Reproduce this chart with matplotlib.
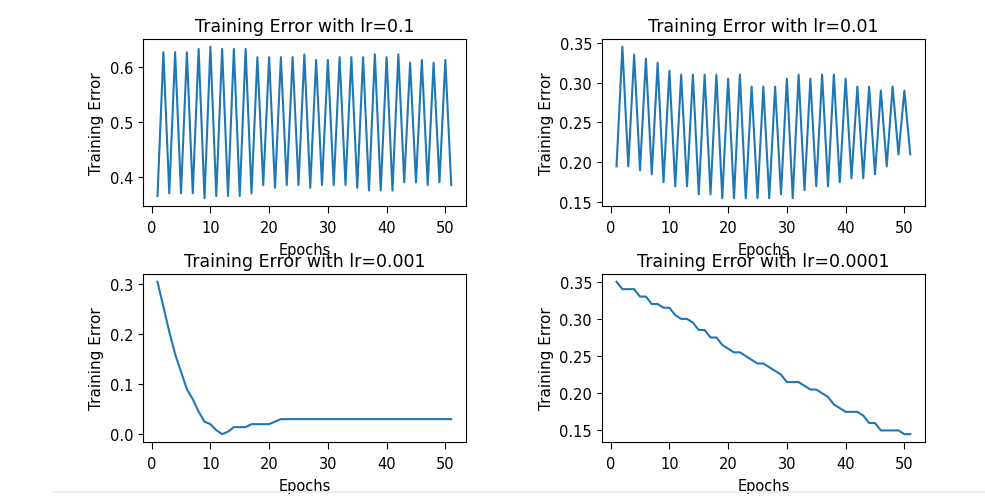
import numpy as np
import matplotlib.pyplot as plt
from matplotlib.lines import Line2D

epochs = np.arange(1, 52)

# lr=0.1: alternating low (odd epochs) / high (even epochs)
lows_01 = [0.365, 0.37, 0.37, 0.37, 0.361, 0.365, 0.365, 0.365, 0.37, 0.385,
           0.38, 0.385, 0.385, 0.38, 0.385, 0.385, 0.385, 0.38, 0.375, 0.375,
           0.375, 0.39, 0.39, 0.385, 0.39, 0.385]
highs_01 = [0.627, 0.627, 0.627, 0.633, 0.637, 0.633, 0.633, 0.633, 0.618, 0.618,
            0.618, 0.618, 0.623, 0.613, 0.613, 0.618, 0.618, 0.618, 0.623, 0.618,
            0.623, 0.608, 0.613, 0.608, 0.613]

# lr=0.01
lows_001 = [0.195, 0.195, 0.19, 0.185, 0.175, 0.17, 0.17, 0.16, 0.16, 0.155,
            0.155, 0.155, 0.155, 0.155, 0.16, 0.155, 0.165, 0.17, 0.17, 0.175,
            0.18, 0.18, 0.185, 0.195, 0.21, 0.21]
highs_001 = [0.345, 0.335, 0.33, 0.325, 0.315, 0.31, 0.31, 0.31, 0.31, 0.305,
             0.31, 0.295, 0.295, 0.295, 0.305, 0.31, 0.305, 0.31, 0.31, 0.305,
             0.295, 0.295, 0.29, 0.295, 0.29]


def zigzag(lows, highs):
    vals = []
    for i in range(len(lows)):
        vals.append(lows[i])
        if i < len(highs):
            vals.append(highs[i])
    return vals


err_01 = zigzag(lows_01, highs_01)
err_001 = zigzag(lows_001, highs_001)

err_0001 = [0.305, 0.255, 0.205, 0.16, 0.125, 0.09, 0.07, 0.045, 0.025, 0.02,
            0.008, 0.0, 0.005, 0.014, 0.014, 0.014, 0.02, 0.02, 0.02, 0.02,
            0.025] + [0.03] * 30

err_00001 = [0.35, 0.34, 0.34, 0.34, 0.33, 0.33, 0.32, 0.32, 0.315, 0.315,
             0.305, 0.30, 0.30, 0.295, 0.285, 0.285, 0.275, 0.275, 0.265, 0.26,
             0.255, 0.255, 0.25, 0.245, 0.24, 0.24, 0.235, 0.23, 0.225, 0.215,
             0.215, 0.215, 0.21, 0.205, 0.205, 0.20, 0.195, 0.185, 0.18, 0.175,
             0.175, 0.175, 0.17, 0.16, 0.16, 0.15, 0.15, 0.15, 0.15, 0.145,
             0.145]

lrs = ["0.1", "0.01", "0.001", "0.0001"]
errors = [err_01, err_001, err_0001, err_00001]

plt.rcParams["xtick.labelsize"] = 10.5
plt.rcParams["ytick.labelsize"] = 10.5
plt.rcParams["xtick.major.size"] = 5
plt.rcParams["xtick.major.pad"] = 5.5

fig = plt.figure(figsize=(9.85, 5.02), dpi=100)
boxes = [
    [0.145, 0.588, 0.328, 0.332],
    [0.611, 0.588, 0.328, 0.332],
    [0.145, 0.118, 0.328, 0.334],
    [0.611, 0.118, 0.328, 0.334],
]

for box, lr, err in zip(boxes, lrs, errors):
    ax = fig.add_axes(box)
    ax.plot(epochs, err)
    ax.set_title(f"Training Error with lr={lr}", fontsize=12.5)
    ax.set_xlabel("Epochs", fontsize=10.5, labelpad=5)
    ax.set_ylabel("Training Error", fontsize=11)

# faint separator line seen at the bottom of the screenshot
fig.add_artist(Line2D([0.054, 1.0], [0.018, 0.018], color="#eeeeee", lw=1.5,
                      transform=fig.transFigure))

fig.savefig("out.png", dpi=100)
